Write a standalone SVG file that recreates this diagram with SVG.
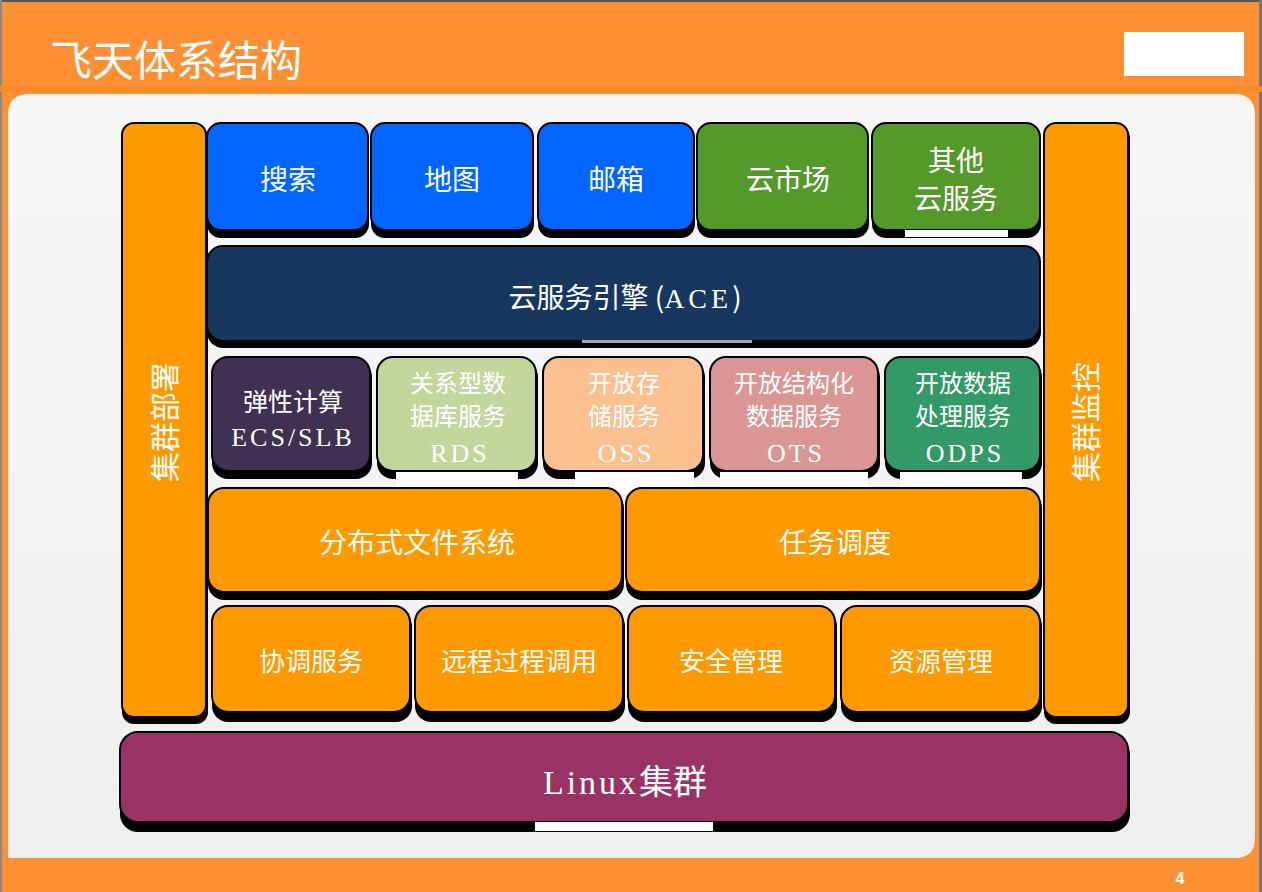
<svg xmlns="http://www.w3.org/2000/svg" width="1262" height="892" viewBox="0 0 1262 892">
<defs>
<style>
.sh{fill:#000}
.bx{stroke:#000;stroke-width:2}
.t{font-family:"Noto Sans CJK SC","Noto Sans",sans-serif;fill:#fff;text-anchor:middle;font-weight:normal}
.l{font-family:"Liberation Serif","Noto Sans CJK SC",serif;fill:#fff;text-anchor:middle;letter-spacing:3px}
.org{fill:#FF9900}
.wh{fill:#fff}
</style>
<linearGradient id="pg" x1="0" y1="0" x2="0" y2="1">
<stop offset="0" stop-color="#F7F7F7"/>
<stop offset="1" stop-color="#EFEFEF"/>
</linearGradient>
</defs>
<rect x="0" y="0" width="1262" height="892" fill="#FD9034"/>
<rect x="0" y="0" width="1262" height="2" fill="#555"/>
<rect x="0" y="0" width="2" height="892" fill="#888"/>
<rect x="1259" y="0" width="3" height="892" fill="#777"/>
<rect x="0" y="86" width="1262" height="6" fill="#F78A2A"/>
<path d="M30,94 H1234 Q1255,94 1255,115 V838 Q1255,858 1235,858 H8 V114 Q8,94 30,94 Z" fill="url(#pg)"/>
<rect x="1124" y="32" width="120" height="44" fill="#fff"/>
<text x="50" y="76" font-family="Noto Sans CJK SC,sans-serif" font-size="42" fill="#fff">飞天体系结构</text>
<text x="1180" y="884" font-family="Liberation Sans,sans-serif" font-size="16" font-weight="bold" fill="#fff" text-anchor="middle">4</text>

<g id="connectors"></g>

<g id="deploy">
<rect class="sh" x="122" y="126" width="86" height="598" rx="12"/>
<rect class="bx org" x="122" y="123" width="84" height="594" rx="12"/>
<text class="t" font-size="30" transform="translate(176,422) rotate(-90)">集群部署</text>
</g>
<g id="monitor">
<rect class="sh" x="1044" y="126" width="86" height="598" rx="12"/>
<rect class="bx org" x="1044" y="123" width="84" height="594" rx="12"/>
<text class="t" font-size="30" transform="translate(1097,422) rotate(-90)">集群监控</text>
</g>

<g id="search">
<rect class="sh" x="207" y="128" width="162" height="110" rx="14"/>
<rect class="bx" fill="#0066FF" x="207" y="123" width="161" height="107" rx="14"/>
<text class="t" x="288" y="190" font-size="28">搜索</text>
</g>
<g id="map">
<rect class="sh" x="371" y="128" width="163" height="110" rx="14"/>
<rect class="bx" fill="#0066FF" x="371" y="123" width="162" height="107" rx="14"/>
<text class="t" x="452" y="190" font-size="28">地图</text>
</g>
<g id="mail">
<rect class="sh" x="538" y="128" width="157" height="110" rx="14"/>
<rect class="bx" fill="#0066FF" x="538" y="123" width="156" height="107" rx="14"/>
<text class="t" x="616" y="190" font-size="28">邮箱</text>
</g>
<g id="market">
<rect class="sh" x="697" y="128" width="172" height="110" rx="14"/>
<rect class="bx" fill="#55992B" x="697" y="123" width="171" height="107" rx="14"/>
<text class="t" x="788" y="190" font-size="28">云市场</text>
</g>
<g id="other">
<rect class="sh" x="872" y="128" width="169" height="110" rx="14"/>
<rect class="bx" fill="#55992B" x="872" y="123" width="168" height="107" rx="14"/>
<rect class="wh" x="905" y="230" width="103" height="7"/>
<text class="t" x="956" y="171" font-size="28">其他</text>
<text class="t" x="956" y="209" font-size="28">云服务</text>
</g>

<g id="ace">
<rect class="sh" x="207" y="250" width="834" height="98" rx="16"/>
<rect class="bx" fill="#17375E" x="207" y="246" width="833" height="95" rx="16"/>
<rect x="582" y="340" width="170" height="3" fill="#A6A6A6"/>
<text x="625" y="308" font-size="28" fill="#fff" text-anchor="middle" font-family="Noto Sans CJK SC,sans-serif">云服务引擎 (<tspan font-family="Liberation Serif,serif" letter-spacing="4">ACE</tspan>)</text>
</g>

<g id="ecs">
<rect class="sh" x="212" y="361" width="160" height="118" rx="16"/>
<rect class="bx" fill="#3F3151" x="212" y="357" width="158" height="114" rx="16"/>
<text class="t" x="293" y="411" font-size="25">弹性计算</text>
<text class="l" x="293" y="446" font-size="26">ECS/SLB</text>
</g>
<g id="rds">
<rect class="sh" x="377" y="361" width="161" height="118" rx="16"/>
<rect class="bx" fill="#C3D69B" x="377" y="357" width="159" height="114" rx="16"/>
<rect class="wh" x="396" y="472" width="122" height="24"/>
<text class="t" x="458" y="392" font-size="24">关系型数</text>
<text class="t" x="458" y="425" font-size="24">据库服务</text>
<text class="l" x="460" y="462" font-size="26" letter-spacing="8">RDS</text>
</g>
<g id="oss">
<rect class="sh" x="543" y="361" width="162" height="118" rx="16"/>
<rect class="bx" fill="#FAC090" x="543" y="357" width="160" height="114" rx="16"/>
<rect class="wh" x="575" y="472" width="119" height="24"/>
<text class="t" x="624" y="392" font-size="24">开放存</text>
<text class="t" x="624" y="425" font-size="24">储服务</text>
<text class="l" x="626" y="462" font-size="26" letter-spacing="8">OSS</text>
</g>
<g id="ots">
<rect class="sh" x="710" y="361" width="170" height="118" rx="16"/>
<rect class="bx" fill="#D99694" x="710" y="357" width="168" height="114" rx="16"/>
<rect class="wh" x="720" y="472" width="148" height="24"/>
<text class="t" x="794" y="392" font-size="24">开放结构化</text>
<text class="t" x="794" y="425" font-size="24">数据服务</text>
<text class="l" x="796" y="462" font-size="26" letter-spacing="8">OTS</text>
</g>
<g id="odps">
<rect class="sh" x="885" y="361" width="157" height="118" rx="16"/>
<rect class="bx" fill="#339966" x="885" y="357" width="155" height="114" rx="16"/>
<rect class="wh" x="900" y="472" width="122" height="24"/>
<text class="t" x="963" y="392" font-size="24">开放数据</text>
<text class="t" x="963" y="425" font-size="24">处理服务</text>
<text class="l" x="965" y="462" font-size="26" letter-spacing="6">ODPS</text>
</g>

<g id="dfs">
<rect class="sh" x="208" y="492" width="416" height="108" rx="16"/>
<rect class="bx org" x="208" y="488" width="414" height="104" rx="16"/>
<text class="t" x="417" y="553" font-size="28">分布式文件系统</text>
</g>
<g id="sched">
<rect class="sh" x="626" y="492" width="416" height="108" rx="16"/>
<rect class="bx org" x="626" y="488" width="414" height="104" rx="16"/>
<text class="t" x="835" y="553" font-size="28">任务调度</text>
</g>

<g id="coord">
<rect class="sh" x="212" y="610" width="200" height="112" rx="16"/>
<rect class="bx org" x="212" y="606" width="198" height="106" rx="16"/>
<text class="t" x="311" y="671" font-size="26">协调服务</text>
</g>
<g id="rpc">
<rect class="sh" x="415" y="610" width="210" height="112" rx="16"/>
<rect class="bx org" x="415" y="606" width="208" height="106" rx="16"/>
<text class="t" x="519" y="671" font-size="26">远程过程调用</text>
</g>
<g id="security">
<rect class="sh" x="628" y="610" width="209" height="112" rx="16"/>
<rect class="bx org" x="628" y="606" width="207" height="106" rx="16"/>
<text class="t" x="731" y="671" font-size="26">安全管理</text>
</g>
<g id="resource">
<rect class="sh" x="841" y="610" width="201" height="112" rx="16"/>
<rect class="bx org" x="841" y="606" width="199" height="106" rx="16"/>
<text class="t" x="941" y="671" font-size="26">资源管理</text>
</g>

<g id="linux">
<rect class="sh" x="120" y="736" width="1010" height="96" rx="18"/>
<rect class="bx" fill="#993366" x="120" y="732" width="1008" height="90" rx="18"/>
<rect class="wh" x="535" y="822" width="178" height="9"/>
<text x="625" y="794" font-size="34" fill="#fff" text-anchor="middle" font-family="Liberation Serif,serif"><tspan letter-spacing="3">Linux</tspan><tspan font-family="Noto Sans CJK SC,sans-serif">集群</tspan></text>
</g>
</svg>
